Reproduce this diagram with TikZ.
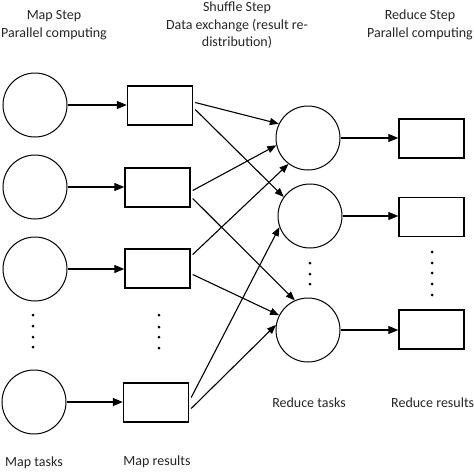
\documentclass[tikz,border=0pt]{standalone}
\usepackage{fontspec}
\setmainfont{Carlito}
\usetikzlibrary{arrows.meta}
\begin{document}
\begin{tikzpicture}[x=1pt,y=-1pt,
  task/.style={draw,circle,minimum size=64pt,inner sep=0pt,line width=1pt},
  res/.style={draw,rectangle,minimum width=65pt,minimum height=39pt,inner sep=0pt,line width=1.4pt},
  arr/.style={line width=1.2pt,-{Triangle[length=10pt,width=8pt]}},
  sarr/.style={line width=1.1pt,-{Triangle[length=9pt,width=7pt]}},
  lbl/.style={align=center,text=black!85,font=\fontsize{14}{17.5}\selectfont,inner sep=0pt},
  dot/.style={circle,fill=black,inner sep=0pt,minimum size=3pt}]
\useasboundingbox (0,0) rectangle (474,474);
% map tasks
\node[task] (m1) at (35,105) {};
\node[task] (m2) at (35,187) {};
\node[task] (m3) at (35,269) {};
\node[task] (m5) at (34,402) {};
% map results
\node[res] (r1) at (160,105.5) {};
\node[res] (r2) at (157.5,187.5) {};
\node[res] (r3) at (157.5,268.5) {};
\node[res] (r5) at (156,402.5) {};
% reduce tasks
\node[task] (c1) at (308,138) {};
\node[task] (c2) at (310,216) {};
\node[task] (c3) at (308,330) {};
% reduce results
\node[res] (o1) at (431.5,138.5) {};
\node[res] (o2) at (431.5,217) {};
\node[res] (o3) at (431.5,329.5) {};
% map arrows
\draw[arr] (m1) -- (r1.west |- m1);
\draw[arr] (m2) -- (r2.west |- m2);
\draw[arr] (m3) -- (r3.west |- m3);
\draw[arr] (m5) -- (r5.west |- m5);
% reduce arrows
\draw[arr] (c1) -- (o1.west |- c1);
\draw[arr] (c2) -- (o2.west |- c2);
\draw[arr] (c3) -- (o3.west |- c3);
% shuffle
\draw[sarr] ([xshift=2pt,yshift=3pt]r1.east) -- (c1.154);
\draw[sarr] ([xshift=2pt,yshift=-4pt]r1.east) -- (c2.144);
\draw[sarr] ([xshift=2pt,yshift=-3pt]r2.east) -- (c1.193);
\draw[sarr] ([xshift=2pt,yshift=-11pt]r2.east) -- (c3.114);
\draw[sarr] ([xshift=2pt,yshift=14pt]r3.east) -- (c1.233);
\draw[sarr] ([xshift=2pt,yshift=-6pt]r3.east) -- (c3.153);
\draw[sarr] ([xshift=2pt,yshift=5pt]r5.east) -- (c2.200);
\draw[sarr] ([xshift=2pt,yshift=-6pt]r5.east) -- (c3.171);
% dots
\foreach \y [count=\i] in {315,326,337,347} \node[dot] (da\i) at (33,\y) {};
\foreach \y [count=\i] in {315,327,337,348} \node[dot] (db\i) at (159,\y) {};
\foreach \y [count=\i] in {263,274,284} \node[dot] (dc\i) at (310,\y) {};
\foreach \y [count=\i] in {252,263,273,284,295} \node[dot] (dd\i) at (432,\y) {};
% labels
\node[lbl] (t1) at (54,25) {Map Step\\Parallel computing};
\node[lbl] (t2) at (237,25.5) {Shuffle Step\\Data exchange (result re-\\distribution)};
\node[lbl] (t3) at (420,25) {Reduce Step\\Parallel computing};
\node[lbl] (b1) at (34,463) {Map tasks};
\node[lbl] (b2) at (157,462) {Map results};
\node[lbl] (b3) at (309,403) {Reduce tasks};
\node[lbl,anchor=west] (b4) at (391,403) {Reduce results};
\end{tikzpicture}
\end{document}
